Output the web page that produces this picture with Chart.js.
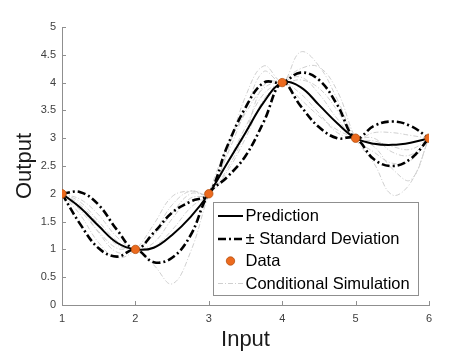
<!DOCTYPE html>
<html><head><meta charset="utf-8">
<script src="https://cdn.jsdelivr.net/npm/chart.js@4/dist/chart.umd.min.js"></script>
<style>html,body{margin:0;padding:0;background:#fff}#wrap{width:474px;height:355px;position:relative}</style>
</head><body><div id="wrap"><canvas id="c" width="474" height="355"></canvas></div>
<script>
// ---- data ----
const xGrid = [1,1.25,1.5,1.75,2,2.25,2.5,2.75,3,3.25,3.5,3.75,4,4.25,4.5,4.75,5,5.25,5.5,5.75,6];
const prediction = [2,1.75,1.42,1.12,1,1.03,1.26,1.58,2,2.55,3.1,3.65,4,3.92,3.6,3.27,3,2.9,2.88,2.92,3];
const upperStd   = [2,2.03,1.8,1.35,1,1.3,1.66,1.86,2,2.85,3.55,4.0,4,4.18,4.05,3.6,3,3.22,3.3,3.22,3];
const lowerStd   = [2,1.45,1.02,0.87,1,0.77,0.85,1.25,2,2.3,2.68,3.3,4,3.58,3.2,3.0,3,2.62,2.5,2.63,3];
const sim1 = [2,1.85,1.5,1.15,1,1.3,1.8,2.05,2,2.7,3.5,4.2,4,4.55,4.3,3.7,3,2.75,2.55,2.6,3];
const sim2 = [2,1.7,1.32,1.02,1,0.72,0.38,0.95,2,2.85,3.45,3.9,4,3.8,3.45,3.1,3,3.0,2.75,2.7,3];
const sim3 = [2,1.62,1.12,0.85,1,1.45,1.95,2.05,2,2.4,3.0,3.7,4,4.25,4.28,3.85,3,2.55,1.98,2.2,3];
const sim4 = [2,1.9,1.62,1.22,1,1.12,1.55,1.92,2,2.75,3.75,4.3,4,4.05,3.9,3.5,3,3.1,3.1,3.05,3];
const sim5 = [2,1.76,1.3,0.95,1,1.25,1.65,2.0,2,2.45,3.1,3.95,4,3.7,3.4,3.15,3,2.85,2.45,2.25,3];
const sim6 = [2,1.8,1.45,1.08,1,1.05,1.35,1.75,2,2.55,3.2,3.8,4,4.1,3.8,3.35,3,2.95,2.85,2.8,3];
const dataX = [1,2,3,4,5,6];
const dataY = [2,1,2,4,3,3];
const xTickLabels = ['1','2','3','4','5','6'];
const yTickLabels = ['0','0.5','1','1.5','2','2.5','3','3.5','4','4.5','5'];
const legendLabels = ['Prediction','\u00B1 Standard Deviation','Data','Conditional Simulation'];

// ---- styles ----
const FONT = '"Liberation Sans", Arial, Helvetica, sans-serif';
const AXIS = '#8f8f8f';
const SIMCOL = '#c9c9c9';
const ORANGE = '#EC6A1E';
const STD_DASH = [8,3,2,3];
const SIM_DASH = [5,2,1,2];

const pts = (xs, ys) => xs.map((x, i) => ({x, y: ys[i]}));
const sims = [sim1, sim2, sim3, sim4, sim5, sim6];

const datasets = [];
datasets.push({label:'Data', data: pts(dataX, dataY), showLine:false, pointRadius:4.2,
  pointBackgroundColor: ORANGE, pointBorderColor:'#b5500f', pointBorderWidth:0.8, order:0});
datasets.push({label:'Prediction', data: pts(xGrid, prediction), showLine:true, borderColor:'#000',
  borderWidth:2, pointRadius:0, tension:0.4, order:1});
datasets.push({label:'Upper', data: pts(xGrid, upperStd), showLine:true, borderColor:'#000',
  borderWidth:2.6, borderDash:STD_DASH, pointRadius:0, tension:0.4, order:2});
datasets.push({label:'Lower', data: pts(xGrid, lowerStd), showLine:true, borderColor:'#000',
  borderWidth:2.6, borderDash:STD_DASH, pointRadius:0, tension:0.4, order:2});
sims.forEach((s, k) => datasets.push({label:'Sim'+k, data: pts(xGrid, s), showLine:true,
  borderColor:SIMCOL, borderWidth:0.9, borderDash:SIM_DASH, pointRadius:0, tension:0.4, order:3}));

const innerTicks = {
  id:'innerTicks',
  beforeDatasetsDraw(chart){
    const {ctx, chartArea:a, scales:{x, y}} = chart;
    ctx.save(); ctx.strokeStyle = AXIS; ctx.lineWidth = 1;
    x.ticks.forEach(t => { const p = Math.round(x.getPixelForValue(t.value)) + 0.5;
      ctx.beginPath(); ctx.moveTo(p, a.bottom); ctx.lineTo(p, a.bottom - 4); ctx.stroke(); });
    y.ticks.forEach(t => { const p = Math.round(y.getPixelForValue(t.value)) + 0.5;
      ctx.beginPath(); ctx.moveTo(a.left, p); ctx.lineTo(a.left + 4, p); ctx.stroke(); });
    ctx.restore();
  }
};

const legendBox = {
  id:'legendBox',
  afterDraw(chart){
    const ctx = chart.ctx;
    const bx = 213.5, by = 202.5, bw = 205, bh = 93;
    ctx.save();
    ctx.fillStyle = '#fff'; ctx.fillRect(bx, by, bw, bh);
    ctx.strokeStyle = AXIS; ctx.lineWidth = 1; ctx.strokeRect(bx, by, bw, bh);
    const rows = [216, 239, 261, 283.5];
    const lx0 = 218, lx1 = 243, tx = 245.5;
    ctx.setLineDash([]); ctx.strokeStyle = '#000'; ctx.lineWidth = 2;
    ctx.beginPath(); ctx.moveTo(lx0, rows[0]); ctx.lineTo(lx1, rows[0]); ctx.stroke();
    ctx.setLineDash(STD_DASH); ctx.lineWidth = 2.6;
    ctx.beginPath(); ctx.moveTo(lx0, rows[1]); ctx.lineTo(lx1, rows[1]); ctx.stroke();
    ctx.setLineDash([]); ctx.fillStyle = ORANGE; ctx.strokeStyle = '#b5500f'; ctx.lineWidth = 0.8;
    ctx.beginPath(); ctx.arc((lx0 + lx1) / 2, rows[2], 4.2, 0, Math.PI * 2); ctx.fill(); ctx.stroke();
    ctx.setLineDash(SIM_DASH); ctx.strokeStyle = SIMCOL; ctx.lineWidth = 0.9;
    ctx.beginPath(); ctx.moveTo(lx0, rows[3]); ctx.lineTo(lx1, rows[3]); ctx.stroke();
    ctx.setLineDash([]);
    ctx.fillStyle = '#000'; ctx.font = '16.5px ' + FONT; ctx.textBaseline = 'middle';
    legendLabels.forEach((t, i) => ctx.fillText(t, tx, rows[i] + 0.5));
    ctx.restore();
  }
};

new Chart(document.getElementById('c'), {
  type:'scatter',
  data:{datasets},
  options:{
    responsive:false, animation:false, devicePixelRatio:1,
    layout:{padding:{left:0, right:45, top:27, bottom:0}},
    plugins:{legend:{display:false}, tooltip:{enabled:false}},
    scales:{
      x:{type:'linear', min:1, max:6,
        ticks:{stepSize:1, color:'#404040', font:{family:FONT, size:11}, padding:7,
          callback:(v, i) => xTickLabels[i]},
        grid:{display:false, drawTicks:false},
        border:{display:true, color:AXIS, width:1},
        title:{display:true, text:'Input', color:'#1a1a1a', font:{family:FONT, size:22}, padding:{top:0, bottom:2}},
        afterFit:(s) => { s.height = 50; }
      },
      y:{type:'linear', min:0, max:5,
        ticks:{stepSize:0.5, color:'#404040', font:{family:FONT, size:11}, padding:6,
          callback:(v, i) => yTickLabels[i]},
        grid:{display:false, drawTicks:false},
        border:{display:true, color:AXIS, width:1},
        title:{display:true, text:'Output', color:'#1a1a1a', font:{family:FONT, size:22}, padding:{top:12, bottom:0}},
        afterFit:(s) => { s.width = 62; }
      }
    }
  },
  plugins:[innerTicks, legendBox]
});
</script></body></html>
